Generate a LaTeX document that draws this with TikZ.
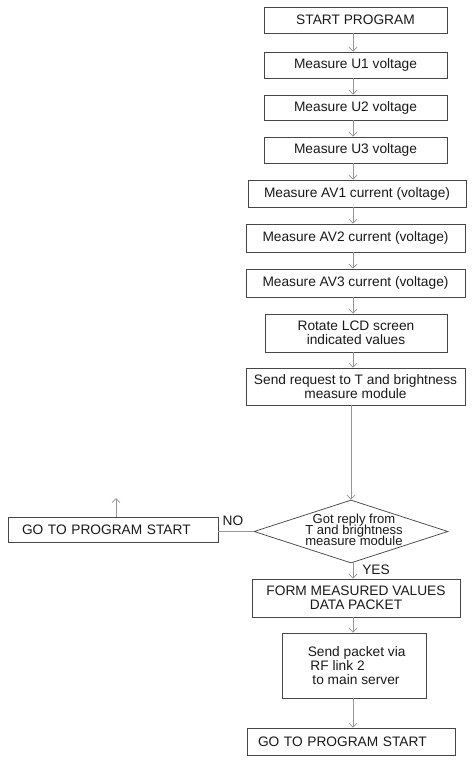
\documentclass[tikz,border=0pt]{standalone}
\usepackage{fontspec}
\setmainfont{Liberation Sans}
\usetikzlibrary{arrows.meta,shapes.geometric}
\definecolor{arrgray}{RGB}{150,150,150}
\definecolor{boxline}{RGB}{70,70,70}
\definecolor{txt}{RGB}{25,25,25}
\newcommand\mytightlines{\fontsize{9.8pt}{8.3pt}\selectfont\lineskiplimit=-20pt\relax\lineskip=0pt\relax}
\begin{document}
\begin{tikzpicture}[x=0.75pt,y=-0.75pt,
  every node/.style={font=\fontsize{10.3pt}{10.7pt}\selectfont, text=txt},
  fbox/.style={draw=boxline, line width=0.55pt, inner sep=0pt, align=center},
  lbox/.style={draw=boxline, line width=0.55pt, inner ysep=0pt, align=left},
  dec/.style={draw=boxline, line width=0.55pt, diamond, inner sep=0pt,
    minimum width=145.5pt, minimum height=47.25pt},
  arr/.style={draw=arrgray, line width=0.55pt, -{Straight Barb[length=3pt,width=6pt]}},
  lnk/.style={draw=arrgray, line width=0.55pt}]
\useasboundingbox (0,0) rectangle (474,764);
\coordinate (ax) at (353,0);
\node[fbox, minimum width=137.25pt, minimum height=19.5pt] (start) at (355.5,20) {START PROGRAM};
\node[fbox, minimum width=137.25pt, minimum height=19.5pt] (u1) at (355.5,65) {Measure U1 voltage};
\node[fbox, minimum width=137.25pt, minimum height=18.75pt] (u2) at (355.5,107.5) {Measure U2 voltage};
\node[fbox, minimum width=137.25pt, minimum height=19.5pt] (u3) at (355.5,150) {Measure U3 voltage};
\node[fbox, minimum width=163.5pt, minimum height=20.25pt] (av1) at (357,193.5) {Measure AV1 current (voltage)};
\node[fbox, minimum width=164.25pt, minimum height=21pt] (av2) at (355.5,238) {Measure AV2 current (voltage)};
\node[fbox, minimum width=164.25pt, minimum height=21pt] (av3) at (355.5,283) {Measure AV3 current (voltage)};
\node[fbox, minimum width=136.5pt, minimum height=28.5pt] (lcd) at (356,333) {Rotate LCD screen\\indicated values};
\node[fbox, minimum width=164.25pt, minimum height=27.75pt] (req) at (355.5,386.5) {Send request to T and brightness\\measure module};
\node[dec] (d) at (351,531.5) {};
\node[align=center, inner sep=0pt, font=\mytightlines] (dt) at (354,530) {Got reply from\\T and brightness\\measure module};
\node[lbox, text width=136.5pt, inner xsep=10.5pt, minimum height=18.75pt] (lg) at (113,529.5) {GO TO PROGRAM START};
\node[fbox, minimum width=156pt, minimum height=28.5pt] (form) at (356,598) {FORM MEASURED VALUES\\DATA PACKET};
\node[fbox, minimum width=108pt, minimum height=48.75pt, align=left] (send) at (354,665.5) {\hspace*{4pt}Send packet via\\\hspace*{6pt}RF link 2\\\hspace*{7.5pt}to main server};
\node[lbox, text width=139.5pt, inner xsep=8.25pt, minimum height=20.25pt] (fin) at (351,741.5) {GO TO PROGRAM START};
\node[inner sep=0pt] (no) at (233,521) {NO};
\node[inner sep=0pt, anchor=west] (yes) at (362,570) {YES};
\coordinate (up) at (116,498);
\draw[arr] (start.south -| ax) -- (u1.north -| ax);
\draw[arr] (u1.south -| ax) -- (u2.north -| ax);
\draw[arr] (u2.south -| ax) -- (u3.north -| ax);
\draw[arr] (u3.south -| ax) -- (av1.north -| ax);
\draw[arr] (av1.south -| ax) -- (av2.north -| ax);
\draw[arr] (av2.south -| ax) -- (av3.north -| ax);
\draw[arr] (av3.south -| ax) -- (lcd.north -| ax);
\draw[arr] (lcd.south -| ax) -- (req.north -| ax);
\draw[arr] (req.south -| d.north) -- (d.north);
\draw[lnk] (d.west) -- (d.west -| lg.east);
\draw[arr] (lg.north -| up) -- (up);
\draw[arr] (d.south -| ax) -- (form.north -| ax);
\draw[arr] (form.south -| ax) -- (send.north -| ax);
\draw[arr] (send.south -| ax) -- (fin.north -| ax);
\end{tikzpicture}
\end{document}
